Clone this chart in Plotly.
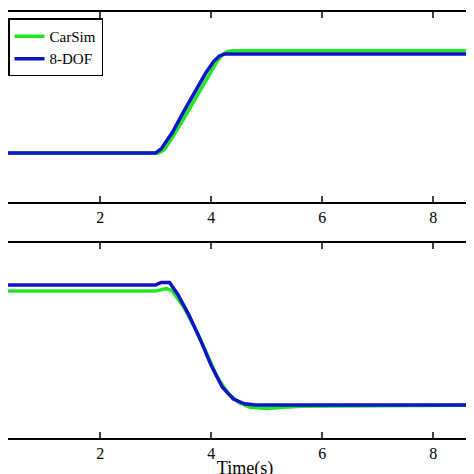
import plotly.graph_objects as go
from plotly.subplots import make_subplots

t_top_green = [0, 3.05, 3.15, 3.3, 3.5, 3.7, 3.9, 4.1, 4.2, 4.3, 4.4, 9]
y_top_green = [0, 0, 0.03, 0.15, 0.33, 0.52, 0.71, 0.89, 0.96, 0.995, 1.0, 1.0]
t_top_blue = [0, 3.0, 3.1, 3.3, 3.5, 3.7, 3.9, 4.05, 4.15, 4.25, 4.35, 9]
y_top_blue = [0, 0, 0.04, 0.2, 0.4, 0.59, 0.78, 0.9, 0.95, 0.97, 0.97, 0.97]

t_bot_green = [0, 3.0, 3.2, 3.3, 3.5, 3.7, 3.9, 4.1, 4.3, 4.5, 4.7, 5.0, 5.6, 9]
y_bot_green = [0.95, 0.95, 0.97, 0.95, 0.82, 0.65, 0.45, 0.24, 0.1, 0.02, -0.02, -0.03, -0.01, 0]
t_bot_blue = [0, 3.0, 3.1, 3.25, 3.4, 3.6, 3.8, 4.0, 4.2, 4.4, 4.6, 4.8, 9]
y_bot_blue = [1.0, 1.0, 1.02, 1.02, 0.92, 0.75, 0.55, 0.33, 0.15, 0.05, 0.01, 0.0, 0.0]

tick_vals = [2, 4, 6, 8]

GREEN = "#22e622"
BLUE = "#0a14c8"

fig = make_subplots(rows=2, cols=1)
fig.add_trace(go.Scatter(x=t_top_green, y=y_top_green, mode="lines", name="CarSim",
                         line=dict(color=GREEN, width=3.5)), row=1, col=1)
fig.add_trace(go.Scatter(x=t_top_blue, y=y_top_blue, mode="lines", name="8-DOF",
                         line=dict(color=BLUE, width=3.5)), row=1, col=1)
fig.add_trace(go.Scatter(x=t_bot_green, y=y_bot_green, mode="lines", showlegend=False,
                         line=dict(color=GREEN, width=3.5)), row=2, col=1)
fig.add_trace(go.Scatter(x=t_bot_blue, y=y_bot_blue, mode="lines", showlegend=False,
                         line=dict(color=BLUE, width=3.5)), row=2, col=1)

axcommon = dict(range=[0.34, 8.88], tickvals=tick_vals, ticks="inside", ticklen=6,
                tickwidth=2, showline=True, linecolor="black", linewidth=2, mirror="ticks",
                showgrid=False, zeroline=False, automargin=False,
                tickfont=dict(size=16, color="black", family="Liberation Serif"))
fig.update_xaxes(**axcommon)
fig.update_xaxes(title=dict(text="Time(s)", font=dict(size=18, color="black"), standoff=0), row=2, col=1)
fig.update_yaxes(showgrid=False, zeroline=False, showticklabels=False, showline=False, automargin=False)
fig.update_yaxes(range=[-0.48, 1.38], row=1, col=1)
fig.update_yaxes(range=[-0.275, 1.35], row=2, col=1)
fig.update_layout(
    width=474, height=474, margin=dict(l=0, r=0, t=4, b=44, autoexpand=False),
    plot_bgcolor="white", paper_bgcolor="white",
    font=dict(family="Liberation Serif", color="black"),
    legend=dict(x=0, y=0.985, xanchor="left", yanchor="top", bordercolor="black",
                borderwidth=1.5, bgcolor="white", font=dict(size=15)),
)
fig.update_layout(yaxis=dict(domain=[0.554, 1]), yaxis2=dict(domain=[0, 0.458]))
fig.write_html("out.html")
